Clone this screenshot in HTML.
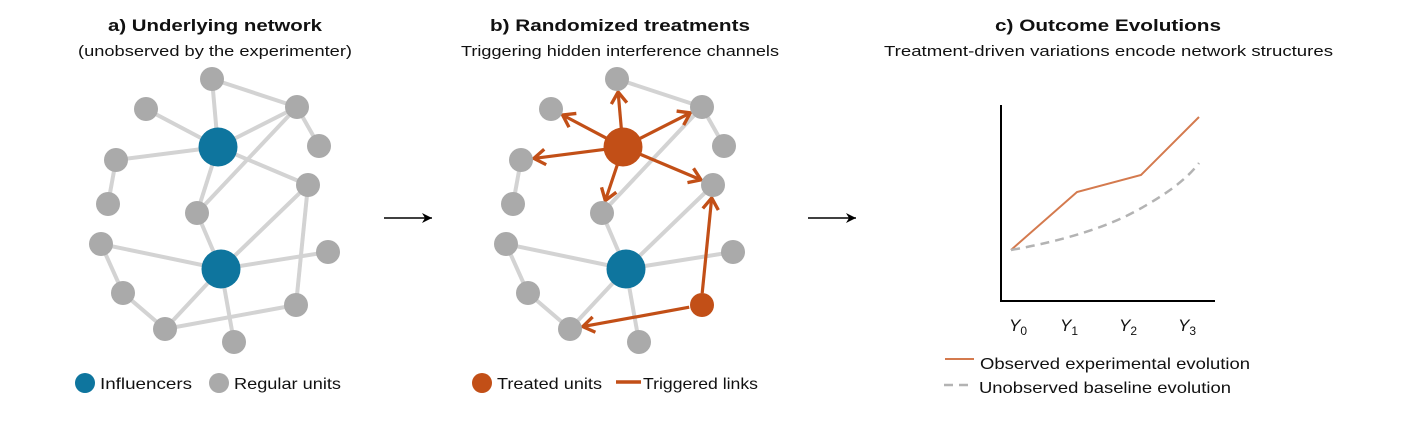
<!DOCTYPE html>
<html><head><meta charset="utf-8"><style>
html,body{margin:0;padding:0;background:#fff;width:1408px;height:421px;overflow:hidden}
svg text{font-family:"Liberation Sans",sans-serif;fill:#111}
</style></head><body>
<svg width="1408" height="421" viewBox="0 0 1408 421" xmlns="http://www.w3.org/2000/svg">
<defs>
<marker id="ah" markerWidth="12" markerHeight="12" refX="9" refY="5" orient="auto" markerUnits="userSpaceOnUse" viewBox="0 0 10 10" overflow="visible">
<path d="M-0.5,-1.5 L9,5 L-0.5,11.5" fill="none" stroke="#c24f17" stroke-width="2.8" stroke-linejoin="miter"/>
</marker>
<marker id="bk" markerWidth="10" markerHeight="10" refX="10" refY="5" orient="auto" markerUnits="userSpaceOnUse" viewBox="0 0 10 10">
<path d="M0,0 L10,5 L0,10 L3,5 Z" fill="#000"/>
</marker>
</defs>

<!-- titles -->
<text x="108" y="31" font-size="17" font-weight="bold" textLength="214" lengthAdjust="spacingAndGlyphs">a) Underlying network</text>
<text x="78" y="56" font-size="15" textLength="274" lengthAdjust="spacingAndGlyphs">(unobserved by the experimenter)</text>
<text x="490" y="31" font-size="17" font-weight="bold" textLength="260" lengthAdjust="spacingAndGlyphs">b) Randomized treatments</text>
<text x="461" y="56" font-size="15" textLength="318" lengthAdjust="spacingAndGlyphs">Triggering hidden interference channels</text>
<text x="995" y="31" font-size="17" font-weight="bold" textLength="226" lengthAdjust="spacingAndGlyphs">c) Outcome Evolutions</text>
<text x="884" y="56" font-size="15" textLength="449" lengthAdjust="spacingAndGlyphs">Treatment-driven variations encode network structures</text>

<!-- panel a -->
<g stroke="#d3d3d3" stroke-width="4">
<line x1="212" y1="79" x2="218" y2="147"/><line x1="212" y1="79" x2="297" y2="107"/>
<line x1="146" y1="109" x2="218" y2="147"/><line x1="297" y1="107" x2="218" y2="147"/>
<line x1="297" y1="107" x2="319" y2="146"/><line x1="297" y1="107" x2="197" y2="213"/>
<line x1="116" y1="160" x2="218" y2="147"/><line x1="116" y1="160" x2="108" y2="204"/>
<line x1="218" y1="147" x2="308" y2="185"/><line x1="218" y1="147" x2="197" y2="213"/>
<line x1="197" y1="213" x2="221" y2="269"/><line x1="308" y1="185" x2="221" y2="269"/>
<line x1="308" y1="185" x2="296" y2="305"/><line x1="101" y1="244" x2="221" y2="269"/>
<line x1="101" y1="244" x2="123" y2="293"/><line x1="221" y1="269" x2="328" y2="252"/>
<line x1="221" y1="269" x2="165" y2="329"/><line x1="221" y1="269" x2="234" y2="342"/>
<line x1="123" y1="293" x2="165" y2="329"/><line x1="165" y1="329" x2="296" y2="305"/>
</g>
<g fill="#aaaaaa">
<circle cx="212" cy="79" r="12"/><circle cx="146" cy="109" r="12"/><circle cx="297" cy="107" r="12"/>
<circle cx="319" cy="146" r="12"/><circle cx="116" cy="160" r="12"/><circle cx="308" cy="185" r="12"/>
<circle cx="108" cy="204" r="12"/><circle cx="197" cy="213" r="12"/><circle cx="101" cy="244" r="12"/>
<circle cx="328" cy="252" r="12"/><circle cx="123" cy="293" r="12"/><circle cx="296" cy="305" r="12"/>
<circle cx="165" cy="329" r="12"/><circle cx="234" cy="342" r="12"/>
</g>
<circle cx="218" cy="147" r="19.5" fill="#0e759e"/><circle cx="221" cy="269" r="19.5" fill="#0e759e"/>
<circle cx="85" cy="383" r="10" fill="#0e759e"/>
<text x="100" y="389" font-size="16" textLength="92" lengthAdjust="spacingAndGlyphs">Influencers</text>
<circle cx="219" cy="383" r="10" fill="#aaaaaa"/>
<text x="234" y="389" font-size="16" textLength="107" lengthAdjust="spacingAndGlyphs">Regular units</text>

<!-- arrows between panels -->
<line x1="384" y1="218" x2="432" y2="218" stroke="#000" stroke-width="1.6" marker-end="url(#bk)"/>
<line x1="808" y1="218" x2="856" y2="218" stroke="#000" stroke-width="1.6" marker-end="url(#bk)"/>

<!-- panel b -->
<g stroke="#d3d3d3" stroke-width="4">
<line x1="617" y1="79" x2="702" y2="107"/><line x1="702" y1="107" x2="724" y2="146"/>
<line x1="702" y1="107" x2="602" y2="213"/><line x1="713" y1="185" x2="626" y2="269"/>
<line x1="521" y1="160" x2="513" y2="204"/><line x1="602" y1="213" x2="626" y2="269"/>
<line x1="506" y1="244" x2="626" y2="269"/><line x1="506" y1="244" x2="528" y2="293"/>
<line x1="626" y1="269" x2="733" y2="252"/><line x1="626" y1="269" x2="570" y2="329"/>
<line x1="626" y1="269" x2="639" y2="342"/><line x1="528" y1="293" x2="570" y2="329"/>
</g>
<g stroke="#c24f17" stroke-width="3.2" marker-end="url(#ah)">
<line x1="621.3" y1="128.1" x2="618.1" y2="92"/>
<line x1="606.2" y1="138.1" x2="562.6" y2="115"/>
<line x1="640" y1="138.4" x2="690.3" y2="112.9"/>
<line x1="604.2" y1="149.4" x2="533.9" y2="158.4"/>
<line x1="640.5" y1="154.4" x2="701" y2="179.9"/>
<line x1="617.2" y1="165.1" x2="605.3" y2="200.6"/>
<line x1="702.2" y1="293.1" x2="711.7" y2="197.9"/>
<line x1="689.2" y1="307.2" x2="582.8" y2="326.6"/>
</g>
<g fill="#aaaaaa">
<circle cx="617" cy="79" r="12"/><circle cx="551" cy="109" r="12"/><circle cx="702" cy="107" r="12"/>
<circle cx="724" cy="146" r="12"/><circle cx="521" cy="160" r="12"/><circle cx="713" cy="185" r="12"/>
<circle cx="513" cy="204" r="12"/><circle cx="602" cy="213" r="12"/><circle cx="506" cy="244" r="12"/>
<circle cx="733" cy="252" r="12"/><circle cx="528" cy="293" r="12"/>
<circle cx="570" cy="329" r="12"/><circle cx="639" cy="342" r="12"/>
</g>
<circle cx="623" cy="147" r="19.5" fill="#c24f17"/>
<circle cx="626" cy="269" r="19.5" fill="#0e759e"/>
<circle cx="702" cy="305" r="12" fill="#c24f17"/>
<circle cx="482" cy="383" r="10" fill="#c24f17"/>
<text x="497" y="389" font-size="16" textLength="105" lengthAdjust="spacingAndGlyphs">Treated units</text>
<line x1="616" y1="382" x2="641" y2="382" stroke="#c24f17" stroke-width="3.5"/>
<text x="643" y="389" font-size="16" textLength="115" lengthAdjust="spacingAndGlyphs">Triggered links</text>

<!-- panel c -->
<polyline points="1001,105 1001,301 1215,301" fill="none" stroke="#000" stroke-width="2"/>
<polyline points="1011,250 1077,192 1141,175 1199,117" fill="none" stroke="#d47a4e" stroke-width="2"/>
<path d="M1011,250 Q1090,236 1136,211 T1199,163" fill="none" stroke="#b3b3b3" stroke-width="2.5" stroke-dasharray="9,6"/>
<g font-family="Liberation Serif,serif" font-style="italic" font-size="17">
<text x="1009" y="331">Y<tspan font-style="normal" font-size="12" dy="4">0</tspan></text>
<text x="1060" y="331">Y<tspan font-style="normal" font-size="12" dy="4">1</tspan></text>
<text x="1119" y="331">Y<tspan font-style="normal" font-size="12" dy="4">2</tspan></text>
<text x="1178" y="331">Y<tspan font-style="normal" font-size="12" dy="4">3</tspan></text>
</g>
<line x1="945" y1="359" x2="974" y2="359" stroke="#d47a4e" stroke-width="2"/>
<text x="980" y="369" font-size="16" textLength="270" lengthAdjust="spacingAndGlyphs">Observed experimental evolution</text>
<line x1="944" y1="385" x2="972" y2="385" stroke="#b3b3b3" stroke-width="2.5" stroke-dasharray="9,6"/>
<text x="979" y="393" font-size="16" textLength="252" lengthAdjust="spacingAndGlyphs">Unobserved baseline evolution</text>
</svg>
</body></html>
